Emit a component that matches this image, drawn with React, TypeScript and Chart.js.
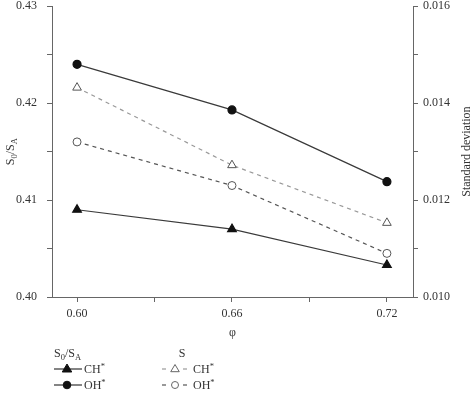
import React, { useEffect, useRef } from "react";
import { Chart, registerables } from "chart.js";

Chart.register(...registerables);

const phi = [0.6, 0.66, 0.72];
const ratioCH = [0.409, 0.407, 0.4033];
const ratioOH = [0.424, 0.4193, 0.4119];
const sdCH = [0.01432, 0.01272, 0.01153];
const sdOH = [0.0132, 0.0123, 0.0109];

const xTicks = [0.6, 0.63, 0.66, 0.69, 0.72];
const xLabels = ["0.60", "", "0.66", "", "0.72"];
const yTicks = [0.4, 0.405, 0.41, 0.415, 0.42, 0.425, 0.43];
const yLabels = ["0.40", "", "0.41", "", "0.42", "", "0.43"];
const y1Ticks = [0.01, 0.011, 0.012, 0.013, 0.014, 0.015, 0.016];
const y1Labels = ["0.010", "", "0.012", "", "0.014", "", "0.016"];

const FONT = "'Liberation Serif', 'DejaVu Serif', serif";
const TEXT = "#333";
const AXIS = "#666";
const FS = 12;
const FS_SMALL = 8.5;

function pts(xs: number[], ys: number[]) {
  return xs.map((x, i) => ({ x, y: ys[i] }));
}

function drawSub(ctx: CanvasRenderingContext2D, parts: { t: string; sub?: boolean; sup?: boolean }[], x: number, y: number, align: "left" | "center") {
  const measure = () => {
    let w = 0;
    for (const p of parts) {
      ctx.font = `${p.sub || p.sup ? FS_SMALL : FS}px ${FONT}`;
      w += ctx.measureText(p.t).width;
    }
    return w;
  };
  let cx = align === "center" ? x - measure() / 2 : x;
  ctx.textBaseline = "alphabetic";
  ctx.textAlign = "left";
  for (const p of parts) {
    ctx.font = `${p.sub || p.sup ? FS_SMALL : FS}px ${FONT}`;
    const dy = p.sub ? 3 : p.sup ? -4 : 0;
    ctx.fillText(p.t, cx, y + dy);
    cx += ctx.measureText(p.t).width;
  }
}

const customText = {
  id: "customText",
  afterDraw(chart: any) {
    const ctx: CanvasRenderingContext2D = chart.ctx;
    const area = chart.chartArea;
    ctx.save();
    ctx.fillStyle = TEXT;
    // left title
    ctx.save();
    ctx.translate(14, (area.top + area.bottom) / 2);
    ctx.rotate(-Math.PI / 2);
    drawSub(ctx, [{ t: "S" }, { t: "0", sub: true }, { t: "/S" }, { t: "A", sub: true }], 0, 0, "center");
    ctx.restore();
    // right title
    ctx.save();
    ctx.translate(470, (area.top + area.bottom) / 2);
    ctx.rotate(-Math.PI / 2);
    drawSub(ctx, [{ t: "Standard deviation" }], 0, 0, "center");
    ctx.restore();
    // x title
    drawSub(ctx, [{ t: "φ" }], (area.left + area.right) / 2, 336, "center");

    // legend
    const row1 = 369;
    const row2 = 385;
    drawSub(ctx, [{ t: "S" }, { t: "0", sub: true }, { t: "/S" }, { t: "A", sub: true }], 54, 357, "left");
    drawSub(ctx, [{ t: "S" }], 182, 357, "center");

    const line = (x1: number, x2: number, y: number, color: string) => {
      ctx.strokeStyle = color;
      ctx.lineWidth = 1.2;
      ctx.beginPath();
      ctx.moveTo(x1, y);
      ctx.lineTo(x2, y);
      ctx.stroke();
    };
    const tri = (x: number, y: number, r: number, fill: string | null, stroke: string) => {
      ctx.beginPath();
      ctx.moveTo(x, y - r);
      ctx.lineTo(x + r * 0.95, y + r * 0.6);
      ctx.lineTo(x - r * 0.95, y + r * 0.6);
      ctx.closePath();
      if (fill) {
        ctx.fillStyle = fill;
        ctx.fill();
      }
      ctx.strokeStyle = stroke;
      ctx.lineWidth = 1;
      ctx.stroke();
    };
    const circ = (x: number, y: number, r: number, fill: string | null, stroke: string) => {
      ctx.beginPath();
      ctx.arc(x, y, r, 0, Math.PI * 2);
      if (fill) {
        ctx.fillStyle = fill;
        ctx.fill();
      }
      ctx.strokeStyle = stroke;
      ctx.lineWidth = 1;
      ctx.stroke();
    };

    line(54, 82, row1, "#333");
    tri(67, row1, 5, "#111", "#111");
    line(54, 82, row2, "#333");
    circ(67, row2, 3.8, "#111", "#111");

    line(162, 166, row1, "#999");
    line(183, 187, row1, "#999");
    tri(175, row1, 4.5, "#fff", "#666");
    line(162, 166, row2, "#555");
    line(183, 187, row2, "#555");
    circ(175, row2, 3.5, "#fff", "#666");

    ctx.fillStyle = TEXT;
    drawSub(ctx, [{ t: "CH" }, { t: "*", sup: true }], 84, row1 + 4, "left");
    drawSub(ctx, [{ t: "OH" }, { t: "*", sup: true }], 84, row2 + 4, "left");
    drawSub(ctx, [{ t: "CH" }, { t: "*", sup: true }], 193, row1 + 4, "left");
    drawSub(ctx, [{ t: "OH" }, { t: "*", sup: true }], 193, row2 + 4, "left");
    ctx.restore();
  },
};

export default function App() {
  const ref = useRef<HTMLCanvasElement>(null);
  useEffect(() => {
    if (!ref.current) return;
    const tickFont = { family: FONT, size: FS };
    const chart = new Chart(ref.current, {
      type: "line",
      data: {
        datasets: [
          {
            label: "S0/SA CH*",
            data: pts(phi, ratioCH),
            yAxisID: "y",
            borderColor: "#3a3a3a",
            borderWidth: 1.2,
            pointStyle: "triangle",
            pointRadius: 5,
            pointBackgroundColor: "#111",
            pointBorderColor: "#111",
          },
          {
            label: "S0/SA OH*",
            data: pts(phi, ratioOH),
            yAxisID: "y",
            borderColor: "#3a3a3a",
            borderWidth: 1.2,
            pointStyle: "circle",
            pointRadius: 4,
            pointBackgroundColor: "#111",
            pointBorderColor: "#111",
          },
          {
            label: "S CH*",
            data: pts(phi, sdCH),
            yAxisID: "y1",
            borderColor: "#999",
            borderWidth: 1.2,
            borderDash: [4, 4],
            pointStyle: "triangle",
            pointRadius: 5,
            pointBackgroundColor: "#fff",
            pointBorderColor: "#555",
            pointBorderWidth: 1,
          },
          {
            label: "S OH*",
            data: pts(phi, sdOH),
            yAxisID: "y1",
            borderColor: "#555",
            borderWidth: 1.2,
            borderDash: [4, 4],
            pointStyle: "circle",
            pointRadius: 4,
            pointBackgroundColor: "#fff",
            pointBorderColor: "#555",
            pointBorderWidth: 1,
          },
        ],
      },
      options: {
        animation: false,
        responsive: true,
        maintainAspectRatio: false,
        layout: { padding: { top: 6, left: 0, right: 0, bottom: 0 } },
        plugins: { legend: { display: false }, tooltip: { enabled: false } },
        scales: {
          x: {
            type: "linear",
            min: 0.5903,
            max: 0.7301,
            afterBuildTicks: (s: any) => {
              s.ticks = xTicks.map((v) => ({ value: v }));
            },
            afterFit: (s: any) => {
              s.height = 98;
              s.paddingLeft = 0;
              s.paddingRight = 0;
            },
            ticks: {
              autoSkip: false,
              maxRotation: 0,
              font: tickFont,
              color: TEXT,
              padding: 5,
              callback: (_v: any, i: number) => xLabels[i],
            },
            grid: { drawOnChartArea: false, drawTicks: true, tickLength: 5, color: AXIS },
            border: { color: AXIS, width: 1 },
          },
          y: {
            type: "linear",
            position: "left",
            min: 0.4,
            max: 0.43,
            afterBuildTicks: (s: any) => {
              s.ticks = yTicks.map((v) => ({ value: v }));
            },
            afterFit: (s: any) => {
              s.width = 52;
              s.paddingTop = 0;
              s.paddingBottom = 0;
            },
            ticks: {
              autoSkip: false,
              font: tickFont,
              color: TEXT,
              padding: 10,
              callback: (_v: any, i: number) => yLabels[i],
            },
            grid: { drawOnChartArea: false, drawTicks: true, tickLength: 5, color: AXIS },
            border: { color: AXIS, width: 1 },
          },
          y1: {
            type: "linear",
            position: "right",
            min: 0.01,
            max: 0.016,
            afterBuildTicks: (s: any) => {
              s.ticks = y1Ticks.map((v) => ({ value: v }));
            },
            afterFit: (s: any) => {
              s.width = 61;
              s.paddingTop = 0;
              s.paddingBottom = 0;
            },
            ticks: {
              autoSkip: false,
              font: tickFont,
              color: TEXT,
              padding: 5,
              callback: (_v: any, i: number) => y1Labels[i],
            },
            grid: { drawOnChartArea: false, drawTicks: true, tickLength: 5, color: AXIS },
            border: { color: AXIS, width: 1 },
          },
        },
      },
      plugins: [customText],
    });
    return () => chart.destroy();
  }, []);
  return (
    <div style={{ position: "absolute", left: 0, top: 0, width: 474, height: 395, background: "#fff" }}>
      <canvas ref={ref} />
    </div>
  );
}
